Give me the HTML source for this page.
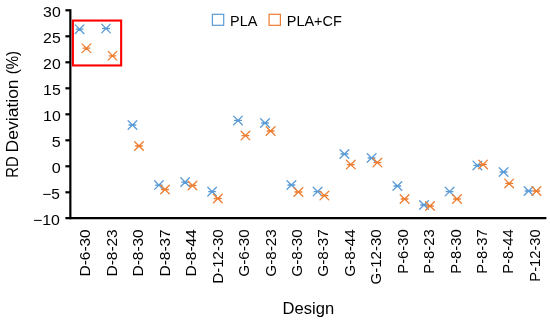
<!DOCTYPE html>
<html><head><meta charset="utf-8"><title>RD Deviation</title>
<style>
html,body{margin:0;padding:0;background:#fff;}
svg{display:block;}
text{font-family:"Liberation Sans",sans-serif;fill:#000;}
</style></head><body>
<svg width="550" height="321" viewBox="0 0 550 321">
<rect width="550" height="321" fill="#fff"/>
<g stroke="#000" stroke-width="2.2" fill="none">
<path d="M70.35 9.2V219.2"/>
<path d="M65.4 218.1H546.4"/>
<path d="M65.4 192.30H70.4"/>
<path d="M65.4 166.30H70.4"/>
<path d="M65.4 140.30H70.4"/>
<path d="M65.4 114.30H70.4"/>
<path d="M65.4 88.30H70.4"/>
<path d="M65.4 62.30H70.4"/>
<path d="M65.4 36.30H70.4"/>
<path d="M65.4 10.30H70.4"/>
</g>
<text x="59.9" y="224.8" font-size="14.5" text-anchor="end" textLength="27.0" lengthAdjust="spacingAndGlyphs">−10</text>
<text x="59.9" y="198.8" font-size="14.5" text-anchor="end" textLength="17.6" lengthAdjust="spacingAndGlyphs">−5</text>
<text x="60.7" y="172.8" font-size="14.5" text-anchor="end" textLength="9.0" lengthAdjust="spacingAndGlyphs">0</text>
<text x="60.7" y="146.8" font-size="14.5" text-anchor="end" textLength="9.0" lengthAdjust="spacingAndGlyphs">5</text>
<text x="60.7" y="120.8" font-size="14.5" text-anchor="end" textLength="17.6" lengthAdjust="spacingAndGlyphs">10</text>
<text x="60.7" y="94.8" font-size="14.5" text-anchor="end" textLength="17.6" lengthAdjust="spacingAndGlyphs">15</text>
<text x="60.7" y="68.8" font-size="14.5" text-anchor="end" textLength="17.6" lengthAdjust="spacingAndGlyphs">20</text>
<text x="60.7" y="42.8" font-size="14.5" text-anchor="end" textLength="17.6" lengthAdjust="spacingAndGlyphs">25</text>
<text x="60.7" y="16.8" font-size="14.5" text-anchor="end" textLength="17.6" lengthAdjust="spacingAndGlyphs">30</text>
<path d="M75.2 24.9L83.9 33.5M75.2 33.5L83.9 24.9M76.2 29.2H83.0" stroke="#5B9BD5" stroke-width="1.3" fill="none" stroke-linecap="round"/>
<path d="M101.7 24.1L110.3 32.9M101.7 32.9L110.3 24.1M102.6 28.5H109.4" stroke="#5B9BD5" stroke-width="1.3" fill="none" stroke-linecap="round"/>
<path d="M128.1 120.7L136.8 129.3M128.1 129.3L136.8 120.7M129.0 125.0H135.8" stroke="#5B9BD5" stroke-width="1.3" fill="none" stroke-linecap="round"/>
<path d="M154.6 180.8L163.2 189.4M154.6 189.4L163.2 180.8M155.5 185.1H162.3" stroke="#5B9BD5" stroke-width="1.3" fill="none" stroke-linecap="round"/>
<path d="M180.8 177.8L189.4 186.5M180.8 186.5L189.4 177.8M181.7 182.2H188.5" stroke="#5B9BD5" stroke-width="1.3" fill="none" stroke-linecap="round"/>
<path d="M207.8 187.3L216.4 196.0M207.8 196.0L216.4 187.3M208.7 191.7H215.5" stroke="#5B9BD5" stroke-width="1.3" fill="none" stroke-linecap="round"/>
<path d="M233.7 116.1L242.3 124.8M233.7 124.8L242.3 116.1M234.6 120.4H241.4" stroke="#5B9BD5" stroke-width="1.3" fill="none" stroke-linecap="round"/>
<path d="M260.6 118.7L269.4 127.3M260.6 127.3L269.4 118.7M261.6 123.0H268.4" stroke="#5B9BD5" stroke-width="1.3" fill="none" stroke-linecap="round"/>
<path d="M287.0 180.7L295.8 189.3M287.0 189.3L295.8 180.7M288.0 185.0H294.8" stroke="#5B9BD5" stroke-width="1.3" fill="none" stroke-linecap="round"/>
<path d="M313.2 187.2L322.0 195.9M313.2 195.9L322.0 187.2M314.2 191.6H321.0" stroke="#5B9BD5" stroke-width="1.3" fill="none" stroke-linecap="round"/>
<path d="M340.0 149.7L348.8 158.3M340.0 158.3L348.8 149.7M341.0 154.0H347.8" stroke="#5B9BD5" stroke-width="1.3" fill="none" stroke-linecap="round"/>
<path d="M367.2 153.7L376.0 162.3M367.2 162.3L376.0 153.7M368.2 158.0H375.0" stroke="#5B9BD5" stroke-width="1.3" fill="none" stroke-linecap="round"/>
<path d="M393.0 181.7L401.8 190.3M393.0 190.3L401.8 181.7M394.0 186.0H400.8" stroke="#5B9BD5" stroke-width="1.3" fill="none" stroke-linecap="round"/>
<path d="M419.6 200.7L428.4 209.3M419.6 209.3L428.4 200.7M420.6 205.0H427.4" stroke="#5B9BD5" stroke-width="1.3" fill="none" stroke-linecap="round"/>
<path d="M445.2 187.2L454.0 195.9M445.2 195.9L454.0 187.2M446.2 191.6H453.0" stroke="#5B9BD5" stroke-width="1.3" fill="none" stroke-linecap="round"/>
<path d="M473.0 161.1L481.8 169.8M473.0 169.8L481.8 161.1M474.0 165.4H480.8" stroke="#5B9BD5" stroke-width="1.3" fill="none" stroke-linecap="round"/>
<path d="M499.2 167.7L508.0 176.3M499.2 176.3L508.0 167.7M500.2 172.0H507.0" stroke="#5B9BD5" stroke-width="1.3" fill="none" stroke-linecap="round"/>
<path d="M524.2 186.7L533.0 195.3M524.2 195.3L533.0 186.7M525.2 191.0H532.0" stroke="#5B9BD5" stroke-width="1.3" fill="none" stroke-linecap="round"/>
<path d="M82.1 43.9L90.8 52.6M82.1 52.6L90.8 43.9M83.0 48.2H89.8" stroke="#ED7D31" stroke-width="1.3" fill="none" stroke-linecap="round"/>
<path d="M108.2 51.4L116.8 60.1M108.2 60.1L116.8 51.4M109.1 55.8H115.9" stroke="#ED7D31" stroke-width="1.3" fill="none" stroke-linecap="round"/>
<path d="M134.7 141.7L143.3 150.3M134.7 150.3L143.3 141.7M135.6 146.0H142.4" stroke="#ED7D31" stroke-width="1.3" fill="none" stroke-linecap="round"/>
<path d="M160.7 185.2L169.3 193.8M160.7 193.8L169.3 185.2M161.6 189.5H168.4" stroke="#ED7D31" stroke-width="1.3" fill="none" stroke-linecap="round"/>
<path d="M188.2 181.2L196.8 189.8M188.2 189.8L196.8 181.2M189.1 185.5H195.9" stroke="#ED7D31" stroke-width="1.3" fill="none" stroke-linecap="round"/>
<path d="M213.5 194.2L222.2 202.8M213.5 202.8L222.2 194.2M214.4 198.5H221.2" stroke="#ED7D31" stroke-width="1.3" fill="none" stroke-linecap="round"/>
<path d="M241.1 131.2L249.8 139.9M241.1 139.9L249.8 131.2M242.0 135.6H248.8" stroke="#ED7D31" stroke-width="1.3" fill="none" stroke-linecap="round"/>
<path d="M266.2 126.7L275.0 135.3M266.2 135.3L275.0 126.7M267.2 131.0H274.0" stroke="#ED7D31" stroke-width="1.3" fill="none" stroke-linecap="round"/>
<path d="M294.0 187.7L302.8 196.3M294.0 196.3L302.8 187.7M295.0 192.0H301.8" stroke="#ED7D31" stroke-width="1.3" fill="none" stroke-linecap="round"/>
<path d="M320.0 191.2L328.8 199.9M320.0 199.9L328.8 191.2M321.0 195.6H327.8" stroke="#ED7D31" stroke-width="1.3" fill="none" stroke-linecap="round"/>
<path d="M346.4 160.2L355.2 168.9M346.4 168.9L355.2 160.2M347.4 164.6H354.2" stroke="#ED7D31" stroke-width="1.3" fill="none" stroke-linecap="round"/>
<path d="M373.0 158.2L381.8 166.9M373.0 166.9L381.8 158.2M374.0 162.6H380.8" stroke="#ED7D31" stroke-width="1.3" fill="none" stroke-linecap="round"/>
<path d="M400.2 194.7L409.0 203.3M400.2 203.3L409.0 194.7M401.2 199.0H408.0" stroke="#ED7D31" stroke-width="1.3" fill="none" stroke-linecap="round"/>
<path d="M425.6 201.7L434.4 210.3M425.6 210.3L434.4 201.7M426.6 206.0H433.4" stroke="#ED7D31" stroke-width="1.3" fill="none" stroke-linecap="round"/>
<path d="M452.6 194.7L461.4 203.3M452.6 203.3L461.4 194.7M453.6 199.0H460.4" stroke="#ED7D31" stroke-width="1.3" fill="none" stroke-linecap="round"/>
<path d="M478.6 160.1L487.4 168.8M478.6 168.8L487.4 160.1M479.6 164.4H486.4" stroke="#ED7D31" stroke-width="1.3" fill="none" stroke-linecap="round"/>
<path d="M504.8 179.1L513.5 187.8M504.8 187.8L513.5 179.1M505.8 183.4H512.6" stroke="#ED7D31" stroke-width="1.3" fill="none" stroke-linecap="round"/>
<path d="M532.0 186.7L540.8 195.3M532.0 195.3L540.8 186.7M533.0 191.0H539.8" stroke="#ED7D31" stroke-width="1.3" fill="none" stroke-linecap="round"/>
<rect x="72.9" y="20.55" width="48.25" height="44.9" fill="none" stroke="#FF0000" stroke-width="2.1"/>
<text transform="translate(90.4 229.3) rotate(-90)" font-size="15" text-anchor="end" textLength="47.2" lengthAdjust="spacingAndGlyphs">D-6-30</text>
<text transform="translate(116.8 229.3) rotate(-90)" font-size="15" text-anchor="end" textLength="47.2" lengthAdjust="spacingAndGlyphs">D-8-23</text>
<text transform="translate(143.3 229.3) rotate(-90)" font-size="15" text-anchor="end" textLength="47.2" lengthAdjust="spacingAndGlyphs">D-8-30</text>
<text transform="translate(169.7 229.3) rotate(-90)" font-size="15" text-anchor="end" textLength="47.2" lengthAdjust="spacingAndGlyphs">D-8-37</text>
<text transform="translate(196.2 229.3) rotate(-90)" font-size="15" text-anchor="end" textLength="47.2" lengthAdjust="spacingAndGlyphs">D-8-44</text>
<text transform="translate(222.6 229.3) rotate(-90)" font-size="15" text-anchor="end" textLength="54.4" lengthAdjust="spacingAndGlyphs">D-12-30</text>
<text transform="translate(249.0 229.3) rotate(-90)" font-size="15" text-anchor="end" textLength="47.4" lengthAdjust="spacingAndGlyphs">G-6-30</text>
<text transform="translate(275.5 229.3) rotate(-90)" font-size="15" text-anchor="end" textLength="47.4" lengthAdjust="spacingAndGlyphs">G-8-23</text>
<text transform="translate(301.9 229.3) rotate(-90)" font-size="15" text-anchor="end" textLength="47.4" lengthAdjust="spacingAndGlyphs">G-8-30</text>
<text transform="translate(328.4 229.3) rotate(-90)" font-size="15" text-anchor="end" textLength="47.4" lengthAdjust="spacingAndGlyphs">G-8-37</text>
<text transform="translate(354.8 229.3) rotate(-90)" font-size="15" text-anchor="end" textLength="47.4" lengthAdjust="spacingAndGlyphs">G-8-44</text>
<text transform="translate(381.2 229.3) rotate(-90)" font-size="15" text-anchor="end" textLength="55.2" lengthAdjust="spacingAndGlyphs">G-12-30</text>
<text transform="translate(407.7 229.3) rotate(-90)" font-size="15" text-anchor="end" textLength="44.4" lengthAdjust="spacingAndGlyphs">P-6-30</text>
<text transform="translate(434.1 229.3) rotate(-90)" font-size="15" text-anchor="end" textLength="44.4" lengthAdjust="spacingAndGlyphs">P-8-23</text>
<text transform="translate(460.6 229.3) rotate(-90)" font-size="15" text-anchor="end" textLength="44.4" lengthAdjust="spacingAndGlyphs">P-8-30</text>
<text transform="translate(487.0 229.3) rotate(-90)" font-size="15" text-anchor="end" textLength="44.4" lengthAdjust="spacingAndGlyphs">P-8-37</text>
<text transform="translate(513.4 229.3) rotate(-90)" font-size="15" text-anchor="end" textLength="44.4" lengthAdjust="spacingAndGlyphs">P-8-44</text>
<text transform="translate(539.9 229.3) rotate(-90)" font-size="15" text-anchor="end" textLength="52.4" lengthAdjust="spacingAndGlyphs">P-12-30</text>
<rect x="212.4" y="14.3" width="11.3" height="11" fill="none" stroke="#5B9BD5" stroke-width="1.2"/>
<text x="230.0" y="25.6" font-size="14.4" textLength="27.3" lengthAdjust="spacingAndGlyphs">PLA</text>
<rect x="269.1" y="14.3" width="11.3" height="11" fill="none" stroke="#ED7D31" stroke-width="1.2"/>
<text x="286.8" y="25.6" font-size="14.4" textLength="55" lengthAdjust="spacingAndGlyphs">PLA+CF</text>
<g transform="translate(18.4 0) rotate(-90)" font-size="16">
<text x="-177.8" y="0" textLength="21.4" lengthAdjust="spacingAndGlyphs">RD</text>
<text x="-152.4" y="0" textLength="73" lengthAdjust="spacingAndGlyphs">Deviation</text>
<text x="-74.3" y="0" textLength="23.4" lengthAdjust="spacingAndGlyphs">(%)</text>
</g>
<text x="282.6" y="313.6" font-size="16.8" textLength="51.6" lengthAdjust="spacingAndGlyphs">Design</text>
</svg></body></html>
